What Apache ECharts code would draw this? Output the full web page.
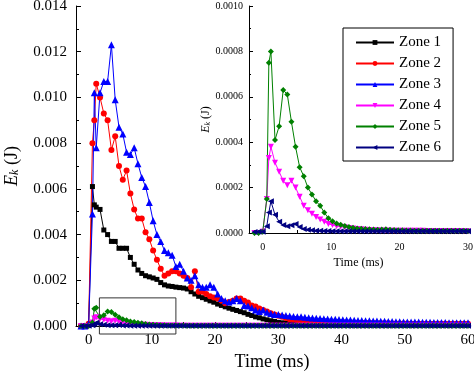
<!DOCTYPE html>
<html>
<head>
<meta charset="utf-8">
<script src="https://cdn.jsdelivr.net/npm/echarts@6.0.0/dist/echarts.min.js"></script>
<style>
  html, body { margin: 0; padding: 0; background: #fff; }
  #chart { width: 474px; height: 376px; }
</style>
</head>
<body>
<div id="chart"></div>
<script>
// time axis (ms), shared by every zone
const time = [
  -1.2, -0.6, 0, 0.6, 0.9, 1.2, 1.8, 2.4, 3.0, 3.6,
  4.2, 4.8, 5.4, 6.0, 6.6, 7.2, 7.8, 8.4, 9.0, 9.6,
  10.2, 10.8, 11.4, 12.0, 12.6, 13.2, 13.8, 14.4, 15.0, 15.6,
  16.2, 16.8, 17.4, 18.0, 18.6, 19.2, 19.8, 20.4, 21.0, 21.6,
  22.2, 22.8, 23.4, 24.0, 24.6, 25.2, 25.8, 26.4, 27.0, 27.6,
  28.2, 28.8, 29.4, 30.0, 30.6, 31.2, 31.8, 32.4, 33.0, 33.6,
  34.2, 34.8, 35.4, 36.0, 36.6, 37.2, 37.8, 38.4, 39.0, 39.6,
  40.2, 40.8, 41.4, 42.0, 42.6, 43.2, 43.8, 44.4, 45.0, 45.6,
  46.2, 46.8, 47.4, 48.0, 48.6, 49.2, 49.8, 50.4, 51.0, 51.6,
  52.2, 52.8, 53.4, 54.0, 54.6, 55.2, 55.8, 56.4, 57.0, 57.6,
  58.2, 58.8, 59.4, 60.0
];

const zone1 = [
  0, 0, 0.00005, 0.0061, 0.0053, 0.0052, 0.0051, 0.0042, 0.0040, 0.0037,
  0.0037, 0.0034, 0.0034, 0.0034, 0.0030, 0.0027, 0.00245, 0.0023, 0.0022, 0.00215,
  0.0021, 0.00204, 0.0019, 0.0018, 0.00175, 0.00173, 0.0017, 0.00168, 0.00166, 0.00162,
  0.0015, 0.0014, 0.0013, 0.00124, 0.00117, 0.0011, 0.00104, 0.00096, 0.0009, 0.00084,
  0.00078, 0.00073, 0.00068, 0.00063, 0.00058, 0.00051, 0.00046, 0.0004, 0.00036, 0.00031,
  0.00027, 0.00023, 0.0002, 0.00016, 0.00014, 0.00012, 0.0001, 0.00008, 0.00007, 0.00006,
  0.00005, 0.00005, 0.00004, 0.00004, 0.00004, 0.00003, 0.00003, 0.00003, 0.00003, 0.00003,
  0.00003, 0.00003, 0.00002, 0.00002, 0.00002, 0.00002, 0.00002, 0.00002, 0.00002, 0.00002,
  0.00002, 0.00002, 0.00002, 0.00002, 0.00002, 0.00002, 0.00002, 0.00002, 0.00002, 0.00002,
  0.00002, 0.00002, 0.00002, 0.00002, 0.00002, 0.00002, 0.00002, 0.00002, 0.00002, 0.00002,
  0.00002, 0.00002, 0.00002, 0.00002
];

const zone2 = [
  0, 0, 0.0001, 0.0080, 0.0090, 0.0106, 0.0100, 0.0093, 0.0090, 0.0077,
  0.0083, 0.0070, 0.0064, 0.0068, 0.0058, 0.0051, 0.0047, 0.0047, 0.0041, 0.0038,
  0.0033, 0.0029, 0.0025, 0.0022, 0.0023, 0.0024, 0.0024, 0.0023, 0.0022, 0.0021,
  0.0017, 0.0024, 0.0015, 0.0015, 0.0014, 0.0013, 0.00125, 0.0012, 0.0011, 0.0010,
  0.00105, 0.0011, 0.0012, 0.0012, 0.0011, 0.00103, 0.0009, 0.00085, 0.00077, 0.0007,
  0.00063, 0.00056, 0.0005, 0.00045, 0.0004, 0.00035, 0.0003, 0.00028, 0.00026, 0.00024,
  0.00022, 0.0002, 0.00019, 0.00018, 0.00017, 0.00017, 0.00016, 0.00016, 0.00015, 0.00015,
  0.00015, 0.00014, 0.00014, 0.00014, 0.00013, 0.00013, 0.00013, 0.00013, 0.00012, 0.00012,
  0.00012, 0.00012, 0.00012, 0.00011, 0.00011, 0.00011, 0.00011, 0.00011, 0.0001, 0.0001,
  0.0001, 0.0001, 0.0001, 0.0001, 0.0001, 0.0001, 0.0001, 0.0001, 0.0001, 0.0001,
  0.0001, 0.0001, 0.0001, 0.0001
];

const zone3 = [
  0, 0, 0.0001, 0.0049, 0.0102, 0.0078, 0.0102, 0.0107, 0.0107, 0.0123,
  0.0099, 0.0087, 0.0084, 0.0076, 0.0075, 0.0078, 0.0071, 0.0065, 0.0061, 0.0054,
  0.0046, 0.0040, 0.0037, 0.0033, 0.0032, 0.0031, 0.0026, 0.0027, 0.0024, 0.0021,
  0.0020, 0.0022, 0.0018, 0.0017, 0.0017, 0.0018, 0.0017, 0.0014, 0.0012, 0.0011,
  0.00105, 0.0011, 0.0012, 0.0011, 0.0009, 0.00088, 0.0008, 0.0007, 0.00063, 0.0007,
  0.0006, 0.00055, 0.0005, 0.0005, 0.00048, 0.00046, 0.00044, 0.00042, 0.0004, 0.0004,
  0.00038, 0.00036, 0.00035, 0.00034, 0.00033, 0.00032, 0.00031, 0.0003, 0.00029, 0.00028,
  0.00027, 0.00026, 0.00026, 0.00025, 0.00024, 0.00024, 0.00023, 0.00023, 0.00022, 0.00022,
  0.00021, 0.00021, 0.0002, 0.0002, 0.00019, 0.00019, 0.00018, 0.00018, 0.00017, 0.00017,
  0.00017, 0.00016, 0.00016, 0.00016, 0.00015, 0.00015, 0.00015, 0.00015, 0.00014, 0.00014,
  0.00014, 0.00014, 0.00014, 0.00014
];

const zone4 = [
  0, 0, 0.000005, 0.00015, 0.00033, 0.00038, 0.00031, 0.00027, 0.00023, 0.00021,
  0.00023, 0.0002, 0.00016, 0.00012, 0.0001, 0.000085, 0.00007, 0.00006, 0.00005, 0.00004,
  0.000035, 0.00003, 0.000028, 0.000025, 0.000022, 0.00002, 0.000018, 0.000016, 0.000014, 0.000013,
  0.000012, 0.000012, 0.000011, 0.000011, 0.00001, 0.00001, 0.00001, 0.00001, 0.00001, 0.00001,
  0.00001, 0.00001, 0.00001, 0.000009, 0.000009, 0.000009, 0.000009, 0.000009, 0.000009, 0.000009,
  0.000009, 0.000009, 0.000008, 0.000008, 0.000008, 0.000008, 0.000008, 0.000008, 0.000008, 0.000008,
  0.000008, 0.000008, 0.000008, 0.000008, 0.000008, 0.000008, 0.000008, 0.000008, 0.000008, 0.000008,
  0.000008, 0.000008, 0.000008, 0.000008, 0.000008, 0.000008, 0.000008, 0.000008, 0.000008, 0.000008,
  0.000008, 0.000008, 0.000008, 0.000008, 0.000008, 0.000008, 0.000008, 0.000008, 0.000008, 0.000008,
  0.000008, 0.000008, 0.000008, 0.000008, 0.000008, 0.000008, 0.000008, 0.000008, 0.000008, 0.000008,
  0.000008, 0.000008, 0.000008, 0.000008
];

const zone5 = [
  0, 0, 0.000005, 0.00015, 0.00075, 0.0008, 0.00041, 0.00047, 0.00063, 0.00061,
  0.00049, 0.00038, 0.00029, 0.00025, 0.0002, 0.00017, 0.00014, 0.00012, 0.00009, 0.000065,
  0.000052, 0.000042, 0.000036, 0.000031, 0.000026, 0.000023, 0.00002, 0.000019, 0.000018, 0.000016,
  0.000015, 0.000014, 0.000015, 0.000016, 0.000014, 0.000013, 0.000012, 0.000012, 0.000011, 0.000011,
  0.00001, 0.00001, 0.00001, 0.00001, 0.00001, 0.00001, 0.00001, 0.00001, 0.00001, 0.00001,
  0.00001, 0.00001, 0.00001, 0.000009, 0.000009, 0.000009, 0.000009, 0.000009, 0.000009, 0.000009,
  0.000009, 0.000009, 0.000009, 0.000009, 0.000009, 0.000009, 0.000009, 0.000009, 0.000009, 0.000009,
  0.000009, 0.000009, 0.000009, 0.000009, 0.000009, 0.000009, 0.000009, 0.000009, 0.000009, 0.000009,
  0.000009, 0.000009, 0.000009, 0.000009, 0.000009, 0.000009, 0.000009, 0.000009, 0.000009, 0.000009,
  0.000009, 0.000009, 0.000009, 0.000009, 0.000009, 0.000009, 0.000009, 0.000009, 0.000009, 0.000009,
  0.000009, 0.000009, 0.000009, 0.000009
];

const zone6 = [
  0.000004, 0.000005, 0.000006, 0.00003, 0.00009, 0.00014, 0.00008, 0.00005, 0.000035, 0.00003,
  0.000034, 0.00004, 0.000026, 0.000018, 0.000014, 0.000012, 0.00001, 0.00001, 0.000009, 0.000009,
  0.000008, 0.000008, 0.000008, 0.000008, 0.000008, 0.000008, 0.000008, 0.000008, 0.000008, 0.000008,
  0.000008, 0.000008, 0.000008, 0.000008, 0.000008, 0.000008, 0.000008, 0.000008, 0.000008, 0.000008,
  0.000008, 0.000008, 0.000008, 0.000008, 0.000008, 0.000008, 0.000008, 0.000008, 0.000008, 0.000008,
  0.000008, 0.000008, 0.000008, 0.000008, 0.000008, 0.000008, 0.000008, 0.000008, 0.000008, 0.000008,
  0.000008, 0.000008, 0.000008, 0.000008, 0.000008, 0.000008, 0.000008, 0.000008, 0.000008, 0.000008,
  0.000008, 0.000008, 0.000008, 0.000008, 0.000008, 0.000008, 0.000008, 0.000008, 0.000008, 0.000008,
  0.000008, 0.000008, 0.000008, 0.000008, 0.000008, 0.000008, 0.000008, 0.000008, 0.000008, 0.000008,
  0.000008, 0.000008, 0.000008, 0.000008, 0.000008, 0.000008, 0.000008, 0.000008, 0.000008, 0.000008,
  0.000008, 0.000008, 0.000008, 0.000008
];

const zoneNames = ['Zone 1', 'Zone 2', 'Zone 3', 'Zone 4', 'Zone 5', 'Zone 6'];
const mainXTicks = [0, 10, 20, 30, 40, 50, 60];
const mainXMinor = [0, 5, 10, 15, 20, 25, 30, 35, 40, 45, 50, 55, 60];
const insetXTicks = [0, 10, 20, 30];
const insetXMinor = [0, 5, 10, 15, 20, 25, 30];
// [x0, x1, y0, y1] of the box that marks the zoomed region
const zoomBox = [1.7, 13.8, -0.00035, 0.00123];

const FONT = '"Liberation Serif", "Times New Roman", serif';

const styles = [
  { color: '#000000', symbol: 'rect', size: 5, rotate: 0 },
  { color: '#ff0000', symbol: 'circle', size: 6, rotate: 0 },
  { color: '#0000ff', symbol: 'triangle', size: 7, rotate: 0 },
  { color: '#ff00ff', symbol: 'triangle', size: 6, rotate: 180 },
  { color: '#008000', symbol: 'diamond', size: 6, rotate: 0 },
  { color: '#000080', symbol: 'triangle', size: 6, rotate: 90 }
];
const zones = [zone1, zone2, zone3, zone4, zone5, zone6];

function makeSeries(idx, axisIndex) {
  const s = styles[idx];
  return {
    name: zoneNames[idx],
    type: 'line',
    xAxisIndex: axisIndex,
    yAxisIndex: axisIndex,
    data: time.map((t, i) => [t, zones[idx][i]]),
    symbol: s.symbol,
    symbolSize: s.size,
    symbolRotate: s.rotate,
    showAllSymbol: true,
    lineStyle: { color: s.color, width: 1 },
    itemStyle: { color: s.color },
    clip: true
  };
}

const axisText = { fontFamily: FONT, color: '#000' };
const blackLine = { onZero: false, lineStyle: { color: '#000', width: 1 } };

const chart = echarts.init(document.getElementById('chart'), null, { renderer: 'canvas' });

const option = {
  animation: false,
  backgroundColor: '#fff',
  grid: [
    { left: 76, right: 6, top: 6, bottom: 50, outerBoundsMode: 'none' },
    { left: 249, right: 6, top: 6, bottom: 143, outerBoundsMode: 'none' }
  ],
  legend: {
    data: zoneNames,
    orient: 'vertical',
    left: 343,
    top: 28,
    padding: [7, 12, 6, 12],
    itemWidth: 38,
    itemHeight: 6,
    itemGap: 6,
    borderColor: '#000',
    borderWidth: 1,
    selectedMode: false,
    textStyle: { fontFamily: FONT, fontSize: 15, color: '#000' }
  },
  xAxis: [
    {
      type: 'value',
      gridIndex: 0,
      min: -2,
      max: 60,
      name: 'Time (ms)',
      nameLocation: 'middle',
      nameGap: 16,
      nameTextStyle: { fontFamily: FONT, fontSize: 18, color: '#000' },
      axisLine: blackLine,
      axisTick: { inside: true, length: 4, customValues: mainXMinor, lineStyle: { color: '#000' } },
      axisLabel: { ...axisText, fontSize: 15, margin: 7, customValues: mainXTicks },
      splitLine: { show: false }
    },
    {
      type: 'value',
      gridIndex: 1,
      min: -2,
      max: 30,
      name: 'Time (ms)',
      nameLocation: 'middle',
      nameGap: 24,
      nameTextStyle: { fontFamily: FONT, fontSize: 12, color: '#000' },
      axisLine: blackLine,
      axisTick: { inside: true, length: 3, customValues: insetXMinor, lineStyle: { color: '#000' } },
      axisLabel: { ...axisText, fontSize: 10, margin: 9, customValues: insetXTicks },
      splitLine: { show: false }
    }
  ],
  yAxis: [
    {
      type: 'value',
      gridIndex: 0,
      min: 0,
      max: 0.014,
      interval: 0.002,
      name: '{i|E}{s|k} (J)',
      nameLocation: 'middle',
      nameGap: 55,
      nameRotate: 90,
      nameTextStyle: {
        fontFamily: FONT, fontSize: 18, color: '#000',
        rich: {
          i: { fontFamily: FONT, fontSize: 18, fontStyle: 'italic', color: '#000' },
          s: { fontFamily: FONT, fontSize: 12, fontStyle: 'italic', color: '#000', verticalAlign: 'bottom', padding: [6, 0, 0, 0] }
        }
      },
      axisLine: { show: true, ...blackLine },
      axisTick: { show: true, inside: true, length: 5, lineStyle: { color: '#000' } },
      minorTick: { show: true, splitNumber: 2, length: 3, lineStyle: { color: '#000' } },
      axisLabel: { ...axisText, fontSize: 15, margin: 9, formatter: v => v.toFixed(3) },
      splitLine: { show: false }
    },
    {
      type: 'value',
      gridIndex: 1,
      min: 0,
      max: 0.001,
      interval: 0.0002,
      name: '{i|E}{s|k} (J)',
      nameLocation: 'middle',
      nameGap: 31,
      nameRotate: 90,
      nameTextStyle: {
        fontFamily: FONT, fontSize: 12, color: '#000',
        rich: {
          i: { fontFamily: FONT, fontSize: 12, fontStyle: 'italic', color: '#000' },
          s: { fontFamily: FONT, fontSize: 8, fontStyle: 'italic', color: '#000', verticalAlign: 'bottom', padding: [4, 0, 0, 0] }
        }
      },
      axisLine: { show: true, ...blackLine },
      axisTick: { show: true, inside: true, length: 4, lineStyle: { color: '#000' } },
      minorTick: { show: true, splitNumber: 2, length: 2, lineStyle: { color: '#000' } },
      axisLabel: { ...axisText, fontSize: 10, margin: 6, formatter: v => v.toFixed(4) },
      splitLine: { show: false }
    }
  ],
  series: [
    makeSeries(0, 0), makeSeries(1, 0), makeSeries(2, 0),
    makeSeries(3, 0), makeSeries(4, 0), makeSeries(5, 0),
    makeSeries(3, 1), makeSeries(4, 1), makeSeries(5, 1),
    {
      name: 'box',
      type: 'custom',
      xAxisIndex: 0,
      yAxisIndex: 0,
      clip: false,
      silent: true,
      data: [zoomBox],
      renderItem: (params, api) => {
        const p0 = api.coord([api.value(0), api.value(3)]);
        const p1 = api.coord([api.value(1), api.value(2)]);
        return {
          type: 'rect',
          shape: { x: p0[0], y: p0[1], width: p1[0] - p0[0], height: p1[1] - p0[1] },
          style: { fill: 'none', stroke: '#333', lineWidth: 1 }
        };
      }
    }
  ]
};

chart.setOption(option);
</script>
</body>
</html>
